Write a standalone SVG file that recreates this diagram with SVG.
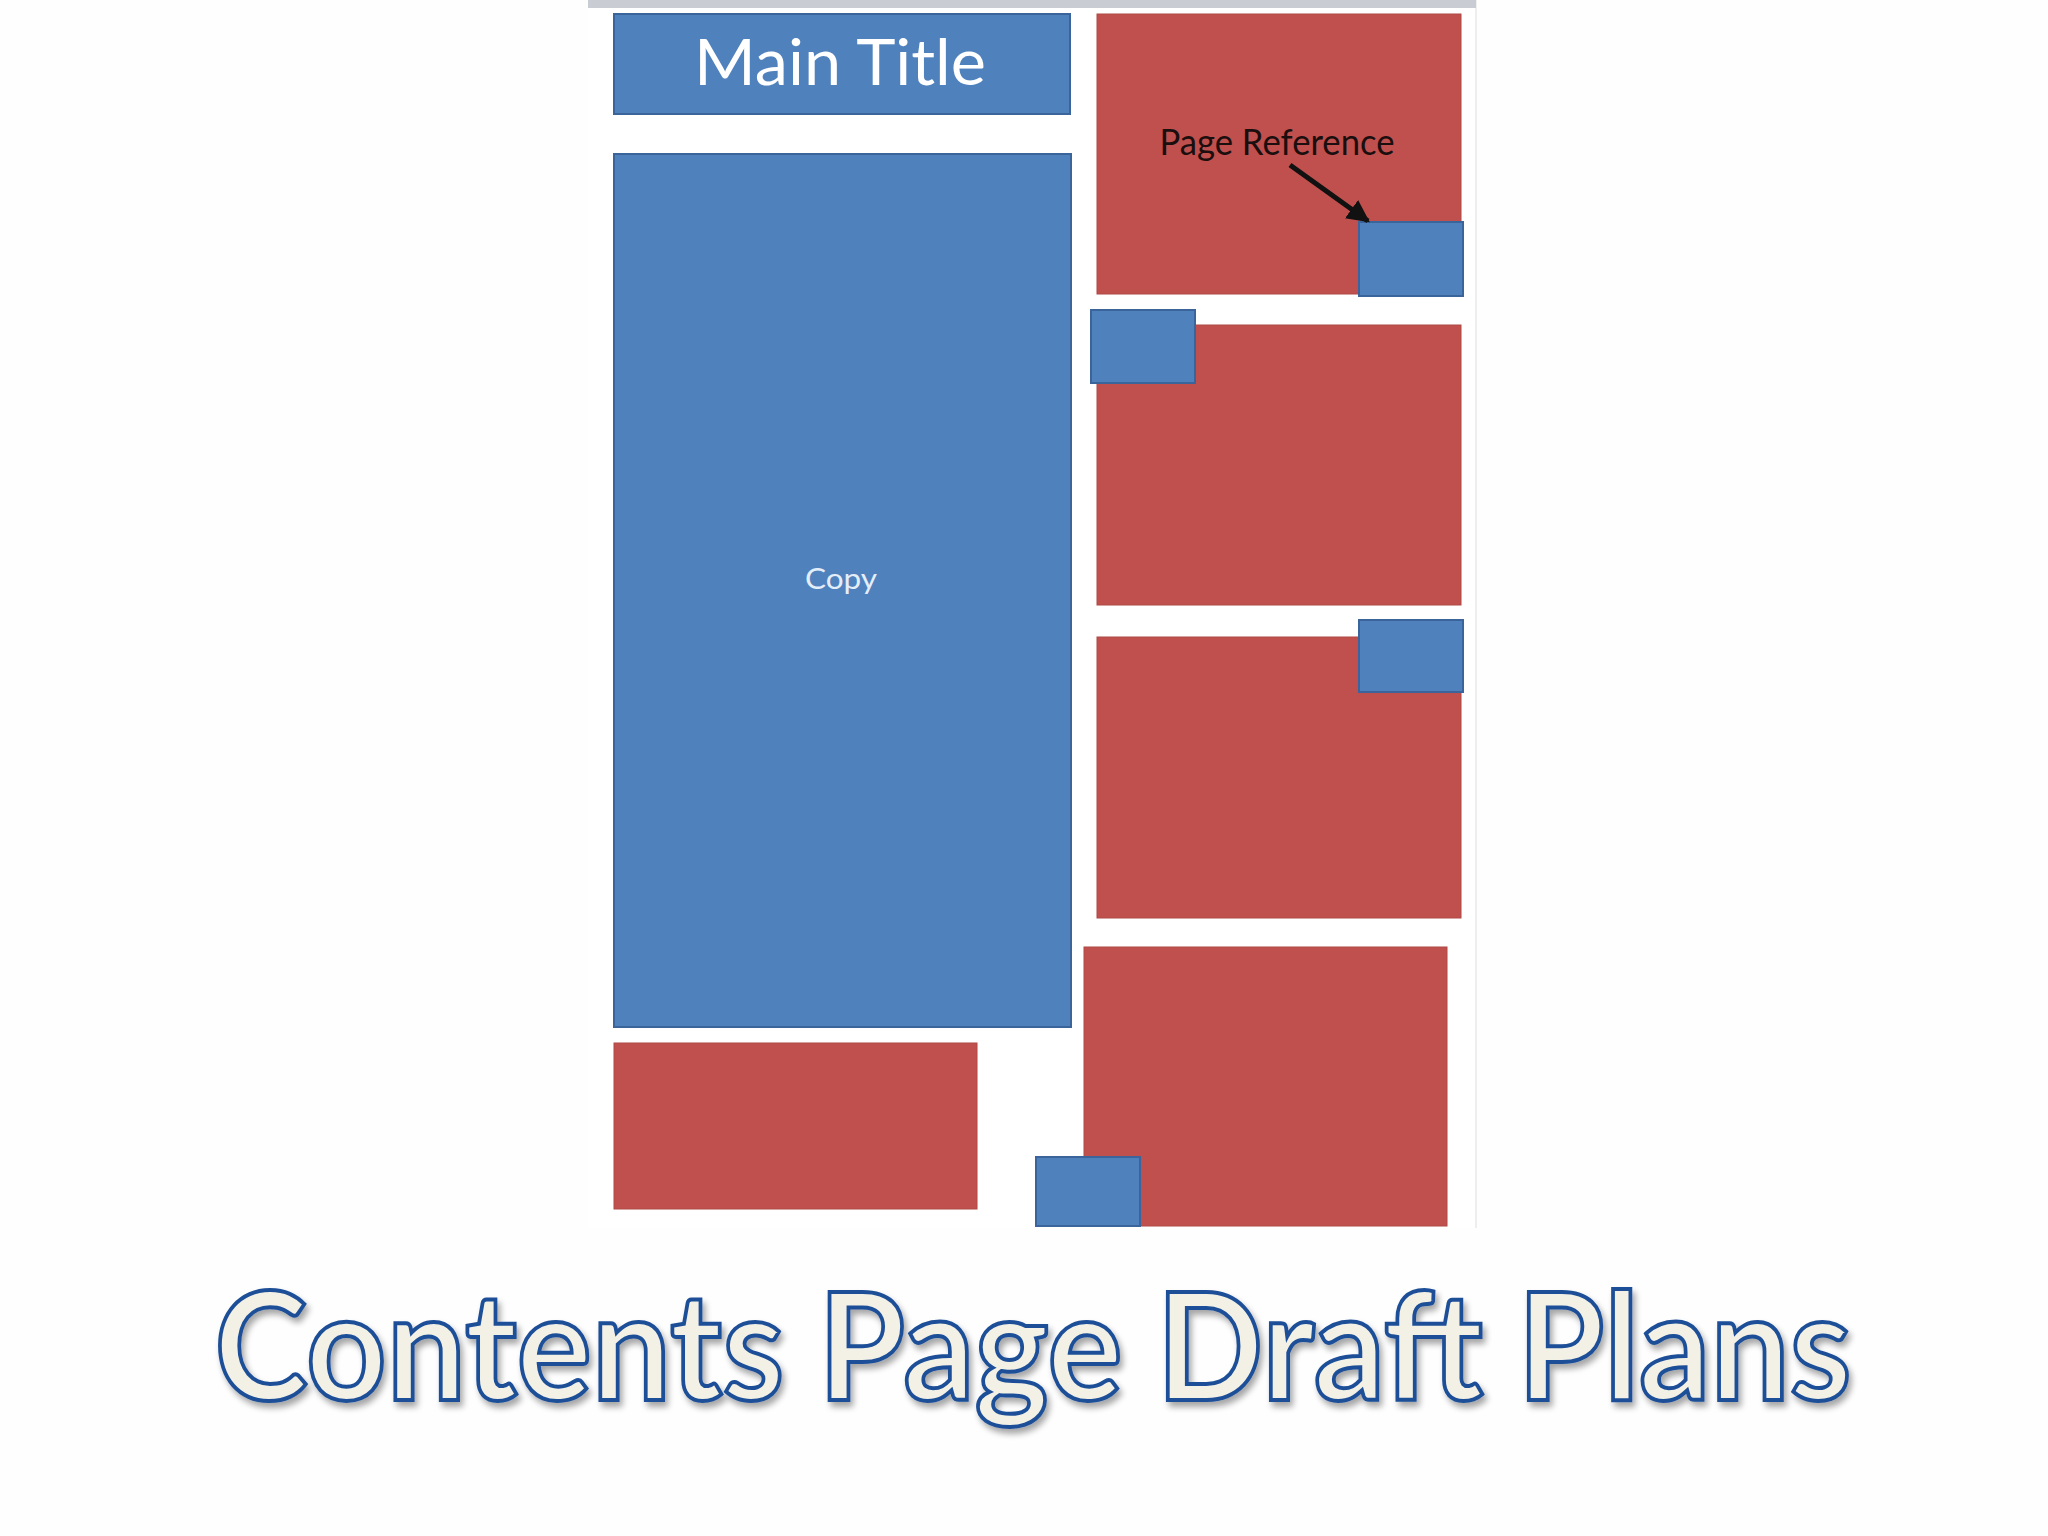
<svg xmlns="http://www.w3.org/2000/svg" width="2048" height="1536" viewBox="0 0 2048 1536">
<defs>
<style>
.blue{fill:#4F81BD;stroke:#3A649A;stroke-width:2}
.red{fill:#C0504D;stroke:#B04845;stroke-width:1}
.lbl{font-family:Lato,"Open Sans","Liberation Sans",sans-serif}
</style>
<marker id="ah" viewBox="0 0 10 10" refX="9" refY="5" markerWidth="4.5" markerHeight="4.5" orient="auto">
<path d="M0,0 L10,5 L0,10 z" fill="#111"/>
</marker>
<filter id="sh" x="-5%" y="-20%" width="110%" height="150%">
<feGaussianBlur in="SourceAlpha" stdDeviation="3"/>
<feOffset dx="3" dy="5" result="b"/>
<feComponentTransfer><feFuncA type="linear" slope="0.35"/></feComponentTransfer>
<feMerge><feMergeNode/><feMergeNode in="SourceGraphic"/></feMerge>
</filter>
</defs>
<rect width="2048" height="1536" fill="#FEFEFE"/>
<rect x="588" y="0" width="888" height="1228" fill="#FFFFFF"/>
<line x1="1476" y1="0" x2="1476" y2="1228" stroke="#EEEEEE" stroke-width="2"/>
<rect x="588" y="0" width="888" height="8" fill="#C9CDD3"/>

<g id="main-title">
<rect class="blue" x="614" y="14" width="456" height="100"/>
<text class="lbl" x="840" y="85" font-size="64" fill="#FFFFFF" text-anchor="middle" textLength="292" lengthAdjust="spacingAndGlyphs">Main Title</text>
</g>
<g id="copy">
<rect class="blue" x="614" y="154" width="457" height="873"/>
<text class="lbl" x="841" y="589" font-size="28" fill="#E4EEF9" text-anchor="middle" textLength="72" lengthAdjust="spacingAndGlyphs">Copy</text>
</g>
<g id="red-1">
<rect class="red" x="1097" y="14" width="364" height="280"/>
<text class="lbl" x="1277" y="155" font-size="36" fill="#1A0E0E" text-anchor="middle" textLength="235" lengthAdjust="spacingAndGlyphs">Page Reference</text>
</g>
<g id="ref-1"><rect class="blue" x="1359" y="222" width="104" height="74"/></g>
<g id="red-2"><rect class="red" x="1097" y="325" width="364" height="280"/></g>
<g id="ref-2"><rect class="blue" x="1091" y="310" width="104" height="73"/></g>
<g id="red-3"><rect class="red" x="1097" y="637" width="364" height="281"/></g>
<g id="ref-3"><rect class="blue" x="1359" y="620" width="104" height="72"/></g>
<g id="red-4"><rect class="red" x="1084" y="947" width="363" height="279"/></g>
<g id="ref-4"><rect class="blue" x="1036" y="1157" width="104" height="69"/></g>
<g id="red-5"><rect class="red" x="614" y="1043" width="363" height="166"/></g>

<g id="connectors">
<line x1="1290" y1="165" x2="1368" y2="221" stroke="#111" stroke-width="5" marker-end="url(#ah)"/>
</g>

<g id="page-title" filter="url(#sh)">
<text class="lbl" x="1033" y="1400" font-size="150" fill="#F3F1E6" stroke="#1E4F97" stroke-width="4" text-anchor="middle" textLength="1637" lengthAdjust="spacingAndGlyphs" font-weight="bold">Contents Page Draft Plans</text>
</g>
</svg>
